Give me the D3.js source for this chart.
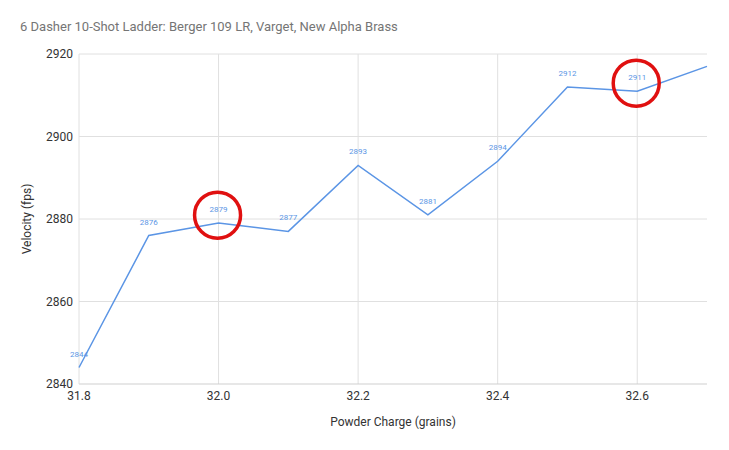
<!DOCTYPE html>
<html>
<head>
<meta charset="utf-8">
<script src="https://cdn.jsdelivr.net/npm/d3@7"></script>
<style>
  body { margin: 0; background: #fff; font-family: Roboto, Arial, sans-serif; }
</style>
</head>
<body>
<div id="chart"></div>
<script>
const charges = [31.8, 31.9, 32.0, 32.1, 32.2, 32.3, 32.4, 32.5, 32.6, 32.7]
const velocities = [2844, 2876, 2879, 2877, 2893, 2881, 2894, 2912, 2911, 2917]
const xTicks = [31.8, 32.0, 32.2, 32.4, 32.6]
const yTicks = [2840, 2860, 2880, 2900, 2920]
const circled = [32.0, 32.6]

const width = 729, height = 450
const margin = {top: 54, right: 22, bottom: 66, left: 79}

const svg = d3.select("#chart").append("svg")
  .attr("width", width)
  .attr("height", height)

const x = d3.scaleLinear().domain([31.8, 32.7]).range([margin.left, width - margin.right])
const y = d3.scaleLinear().domain([2840, 2920]).range([height - margin.bottom, margin.top])

svg.append("text")
  .attr("x", 20).attr("y", 31)
  .attr("font-size", 13).attr("fill", "#757575")
  .text("6 Dasher 10-Shot Ladder: Berger 109 LR, Varget, New Alpha Brass")

// gridlines
svg.append("g").selectAll("line")
  .data(yTicks.slice(1))
  .join("line")
    .attr("x1", x.range()[0]).attr("x2", x.range()[1])
    .attr("y1", d => y(d)).attr("y2", d => y(d))
    .attr("stroke", "#e0e0e0")
svg.append("g").selectAll("line")
  .data(xTicks.slice(1))
  .join("line")
    .attr("x1", d => x(d)).attr("x2", d => x(d))
    .attr("y1", y.range()[0]).attr("y2", y.range()[1])
    .attr("stroke", "#e0e0e0")

// axis lines
svg.append("line")
  .attr("x1", x.range()[0]).attr("x2", x.range()[1])
  .attr("y1", y(2840)).attr("y2", y(2840))
  .attr("stroke", "#cfcfcf")
svg.append("line")
  .attr("x1", x(31.8)).attr("x2", x(31.8))
  .attr("y1", y.range()[0]).attr("y2", y.range()[1])
  .attr("stroke", "#e0e0e0")

svg.append("g").selectAll("text")
  .data(yTicks)
  .join("text")
    .attr("x", margin.left - 6).attr("y", d => y(d) + 4)
    .attr("text-anchor", "end")
    .attr("font-size", 12).attr("fill", "#333")
    .text(d => d)
svg.append("g").selectAll("text")
  .data(xTicks)
  .join("text")
    .attr("x", d => x(d)).attr("y", y(2840) + 16)
    .attr("text-anchor", "middle")
    .attr("font-size", 12).attr("fill", "#333")
    .text(d => d.toFixed(1))

svg.append("text")
  .attr("x", (x.range()[0] + x.range()[1]) / 2).attr("y", 426)
  .attr("text-anchor", "middle")
  .attr("font-size", 12).attr("fill", "#333")
  .text("Powder Charge (grains)")
svg.append("text")
  .attr("transform", `translate(31,${(y.range()[0] + y.range()[1]) / 2}) rotate(-90)`)
  .attr("text-anchor", "middle")
  .attr("font-size", 12).attr("fill", "#333")
  .text("Velocity (fps)")

const pts = charges.map((c, i) => [c, velocities[i]])

svg.append("path")
  .datum(pts)
  .attr("fill", "none")
  .attr("stroke", "#5b95e5")
  .attr("stroke-width", 1.5)
  .attr("d", d3.line().x(d => x(d[0])).y(d => y(d[1])))

svg.append("g").selectAll("text")
  .data(pts.slice(0, -1))
  .join("text")
    .attr("x", d => x(d[0]))
    .attr("y", d => y(d[1]) - 11)
    .attr("text-anchor", "middle")
    .attr("font-size", 8).attr("fill", "#5b95e5")
    .text(d => d[1])

svg.append("g").selectAll("circle")
  .data(pts.filter(d => circled.includes(d[0])))
  .join("circle")
    .attr("cx", d => x(d[0]) - 1)
    .attr("cy", d => y(d[1]) - 8)
    .attr("r", 23)
    .attr("fill", "none")
    .attr("stroke", "#e01010")
    .attr("stroke-width", 3.5)
</script>
</body>
</html>
